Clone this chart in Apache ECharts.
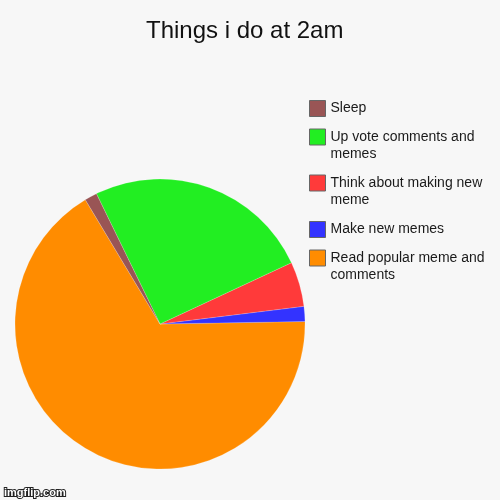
<!DOCTYPE html>
<html>
<head>
<meta charset="utf-8">
<script src="https://cdn.jsdelivr.net/npm/echarts@6/dist/echarts.min.js"></script>
<style>
  html, body { margin: 0; padding: 0; background: #f7f7f7; }
  #chart { width: 500px; height: 500px; }
</style>
</head>
<body>
<div id="chart"></div>
<script>
// slices, in drawing order (counter-clockwise)
const sliceNames = ['Read popular meme and comments', 'Make new memes', 'Think about making new meme', 'Up vote comments and memes', 'Sleep']
const sliceValues = [240, 6, 18, 91, 5]
const sliceColors = ['#ff8c00', '#3333ff', '#ff3a3a', '#22ee22', '#995555']

// legend reads top to bottom in reverse order, long names wrapped
const legendOrder = ['Sleep', 'Up vote comments and memes', 'Think about making new meme', 'Make new memes', 'Read popular meme and comments']
const legendLabels = {
  'Sleep': 'Sleep',
  'Up vote comments and memes': 'Up vote comments and\nmemes',
  'Think about making new meme': 'Think about making new\nmeme',
  'Make new memes': 'Make new memes',
  'Read popular meme and comments': 'Read popular meme and\ncomments'
}
const legendTops = [100, 111.5, 157.5, 221, 232.5]

const font = 'Liberation Sans, Arial, sans-serif'

const chart = echarts.init(document.getElementById('chart'))

// text is centred on the box, so a blank first line pushes a
// two-line label down until its first line sits next to the box
const legends = legendOrder.map((name, i) => ({
  left: 309,
  top: legendTops[i],
  padding: 0,
  orient: 'vertical',
  selectedMode: false,
  itemWidth: 16,
  itemHeight: 16,
  icon: 'rect',
  itemStyle: { borderColor: '#666', borderWidth: 1 },
  data: [name],
  formatter: n => legendLabels[n].indexOf('\n') >= 0 ? '\n' + legendLabels[n] : legendLabels[n],
  textStyle: {
    fontFamily: font,
    fontSize: 14,
    lineHeight: 17,
    color: '#1a1a1a'
  }
}))

chart.setOption({
  backgroundColor: '#f7f7f7',
  animation: false,
  title: {
    text: 'Things i do at 2am',
    left: 146,
    top: 19,
    padding: 0,
    textStyle: { fontFamily: font, fontSize: 24, fontWeight: 'normal', color: '#111' }
  },
  legend: legends,
  series: [{
    type: 'pie',
    center: [160, 324],
    radius: 145,
    startAngle: 121,
    clockwise: false,
    label: { show: false },
    labelLine: { show: false },
    emphasis: { disabled: true },
    itemStyle: { borderColor: 'rgba(255,255,255,0.35)', borderWidth: 0.5 },
    data: sliceNames.map((n, i) => ({ name: n, value: sliceValues[i], itemStyle: { color: sliceColors[i] } }))
  }],
  graphic: [{
    type: 'text',
    left: 3,
    top: 486,
    style: {
      text: 'imgflip.com',
      fontFamily: font,
      fontSize: 11,
      fontWeight: 'bold',
      fill: '#fff',
      stroke: '#222',
      lineWidth: 2
    }
  }]
})
</script>
</body>
</html>
